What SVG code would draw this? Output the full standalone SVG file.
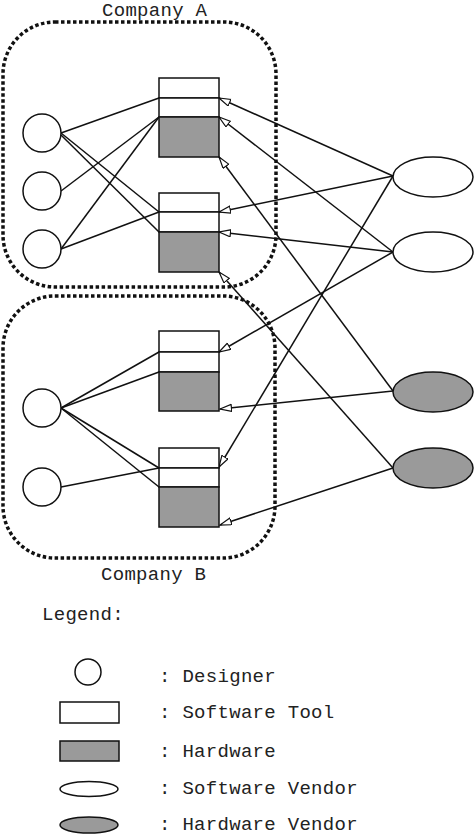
<svg xmlns="http://www.w3.org/2000/svg" width="474" height="837" viewBox="0 0 474 837">
<style>
.t{font-family:"Liberation Mono","DejaVu Sans Mono",monospace;font-size:19px;letter-spacing:0.3px;fill:#222}
.grp{fill:none;stroke:#111;stroke-width:3.5;stroke-dasharray:3.5 2.5}
.des{fill:#fff;stroke:#111;stroke-width:1.5}
.sw{fill:#fff;stroke:#111;stroke-width:1.5}
.hw{fill:#9a9a9a;stroke:#111;stroke-width:1.5}
.c{stroke:#111;stroke-width:1.5;fill:none}
.a{stroke:#111;stroke-width:1.5;fill:none;marker-end:url(#ar)}
</style>
<defs>
<marker id="ar" markerUnits="userSpaceOnUse" markerWidth="14" markerHeight="10" refX="12" refY="4" orient="auto">
<path d="M0.5,0.5 L12,4 L0.5,7.5 Z" fill="#fff" stroke="#111" stroke-width="1.2"/>
</marker>
</defs>
<rect width="474" height="837" fill="#fff"/>

<g id="companyA">
<rect class="grp" x="3" y="22" width="273" height="265" rx="52" ry="52"/>
<text class="t" x="102" y="16">Company A</text>
</g>
<g id="companyB">
<rect class="grp" x="3" y="296" width="272" height="262" rx="52" ry="52"/>
<text class="t" x="101" y="580">Company B</text>
</g>

<g id="connectors">
<line class="c" x1="61" y1="133" x2="159" y2="98"/>
<line class="c" x1="61" y1="133" x2="159" y2="212"/>
<line class="c" x1="61" y1="135" x2="159" y2="232"/>
<line class="c" x1="61" y1="191" x2="159" y2="117"/>
<line class="c" x1="61" y1="249" x2="159" y2="117"/>
<line class="c" x1="61" y1="249" x2="159" y2="212"/>
<line class="c" x1="61" y1="408" x2="159" y2="352"/>
<line class="c" x1="61" y1="408" x2="159" y2="372"/>
<line class="c" x1="61" y1="408" x2="159" y2="468"/>
<line class="c" x1="61" y1="408" x2="159" y2="487"/>
<line class="c" x1="61" y1="487" x2="159" y2="468"/>
<line class="a" x1="393" y1="176" x2="219" y2="98"/>
<line class="a" x1="393" y1="176" x2="219" y2="212"/>
<line class="a" x1="393" y1="176" x2="219" y2="467"/>
<line class="a" x1="393" y1="252" x2="219" y2="117"/>
<line class="a" x1="393" y1="252" x2="219" y2="232"/>
<line class="a" x1="393" y1="252" x2="219" y2="352"/>
<line class="a" x1="393" y1="391" x2="219" y2="157"/>
<line class="a" x1="393" y1="391" x2="220" y2="409"/>
<line class="a" x1="393" y1="468" x2="219" y2="272"/>
<line class="a" x1="393" y1="468" x2="220" y2="525"/>
</g>

<g id="designerA1"><circle class="des" cx="42" cy="133" r="19"/></g>
<g id="designerA2"><circle class="des" cx="42" cy="191" r="19"/></g>
<g id="designerA3"><circle class="des" cx="42" cy="249" r="19"/></g>
<g id="designerB1"><circle class="des" cx="42" cy="408" r="19"/></g>
<g id="designerB2"><circle class="des" cx="42" cy="487" r="19"/></g>

<g id="boxA1">
<rect class="sw" x="159" y="78" width="60" height="20"/>
<rect class="sw" x="159" y="98" width="60" height="19"/>
<rect class="hw" x="159" y="117" width="60" height="40"/>
</g>
<g id="boxA2">
<rect class="sw" x="159" y="193" width="60" height="19"/>
<rect class="sw" x="159" y="212" width="60" height="20"/>
<rect class="hw" x="159" y="232" width="60" height="40"/>
</g>
<g id="boxB1">
<rect class="sw" x="159" y="331" width="60" height="21"/>
<rect class="sw" x="159" y="352" width="60" height="20"/>
<rect class="hw" x="159" y="372" width="60" height="39"/>
</g>
<g id="boxB2">
<rect class="sw" x="159" y="448" width="60" height="20"/>
<rect class="sw" x="159" y="468" width="60" height="19"/>
<rect class="hw" x="159" y="487" width="60" height="40"/>
</g>

<g id="softwareVendor1"><ellipse class="sw" cx="433" cy="177" rx="40" ry="20"/></g>
<g id="softwareVendor2"><ellipse class="sw" cx="433" cy="252" rx="40" ry="20"/></g>
<g id="hardwareVendor1"><ellipse class="hw" cx="433" cy="392" rx="40" ry="20"/></g>
<g id="hardwareVendor2"><ellipse class="hw" cx="433" cy="468" rx="40" ry="20"/></g>

<g id="legend">
<text class="t" x="42" y="620">Legend:</text>
<circle class="des" cx="88" cy="672" r="13"/>
<text class="t" x="159" y="682">: Designer</text>
<rect class="sw" x="60" y="702" width="59" height="21"/>
<text class="t" x="159" y="718">: Software Tool</text>
<rect class="hw" x="60" y="741" width="59" height="20"/>
<text class="t" x="159" y="757">: Hardware</text>
<ellipse class="sw" cx="89" cy="789" rx="29" ry="7.5"/>
<text class="t" x="159" y="794">: Software Vendor</text>
<ellipse class="hw" cx="89" cy="825" rx="29" ry="8"/>
<text class="t" x="159" y="830">: Hardware Vendor</text>
</g>
</svg>
